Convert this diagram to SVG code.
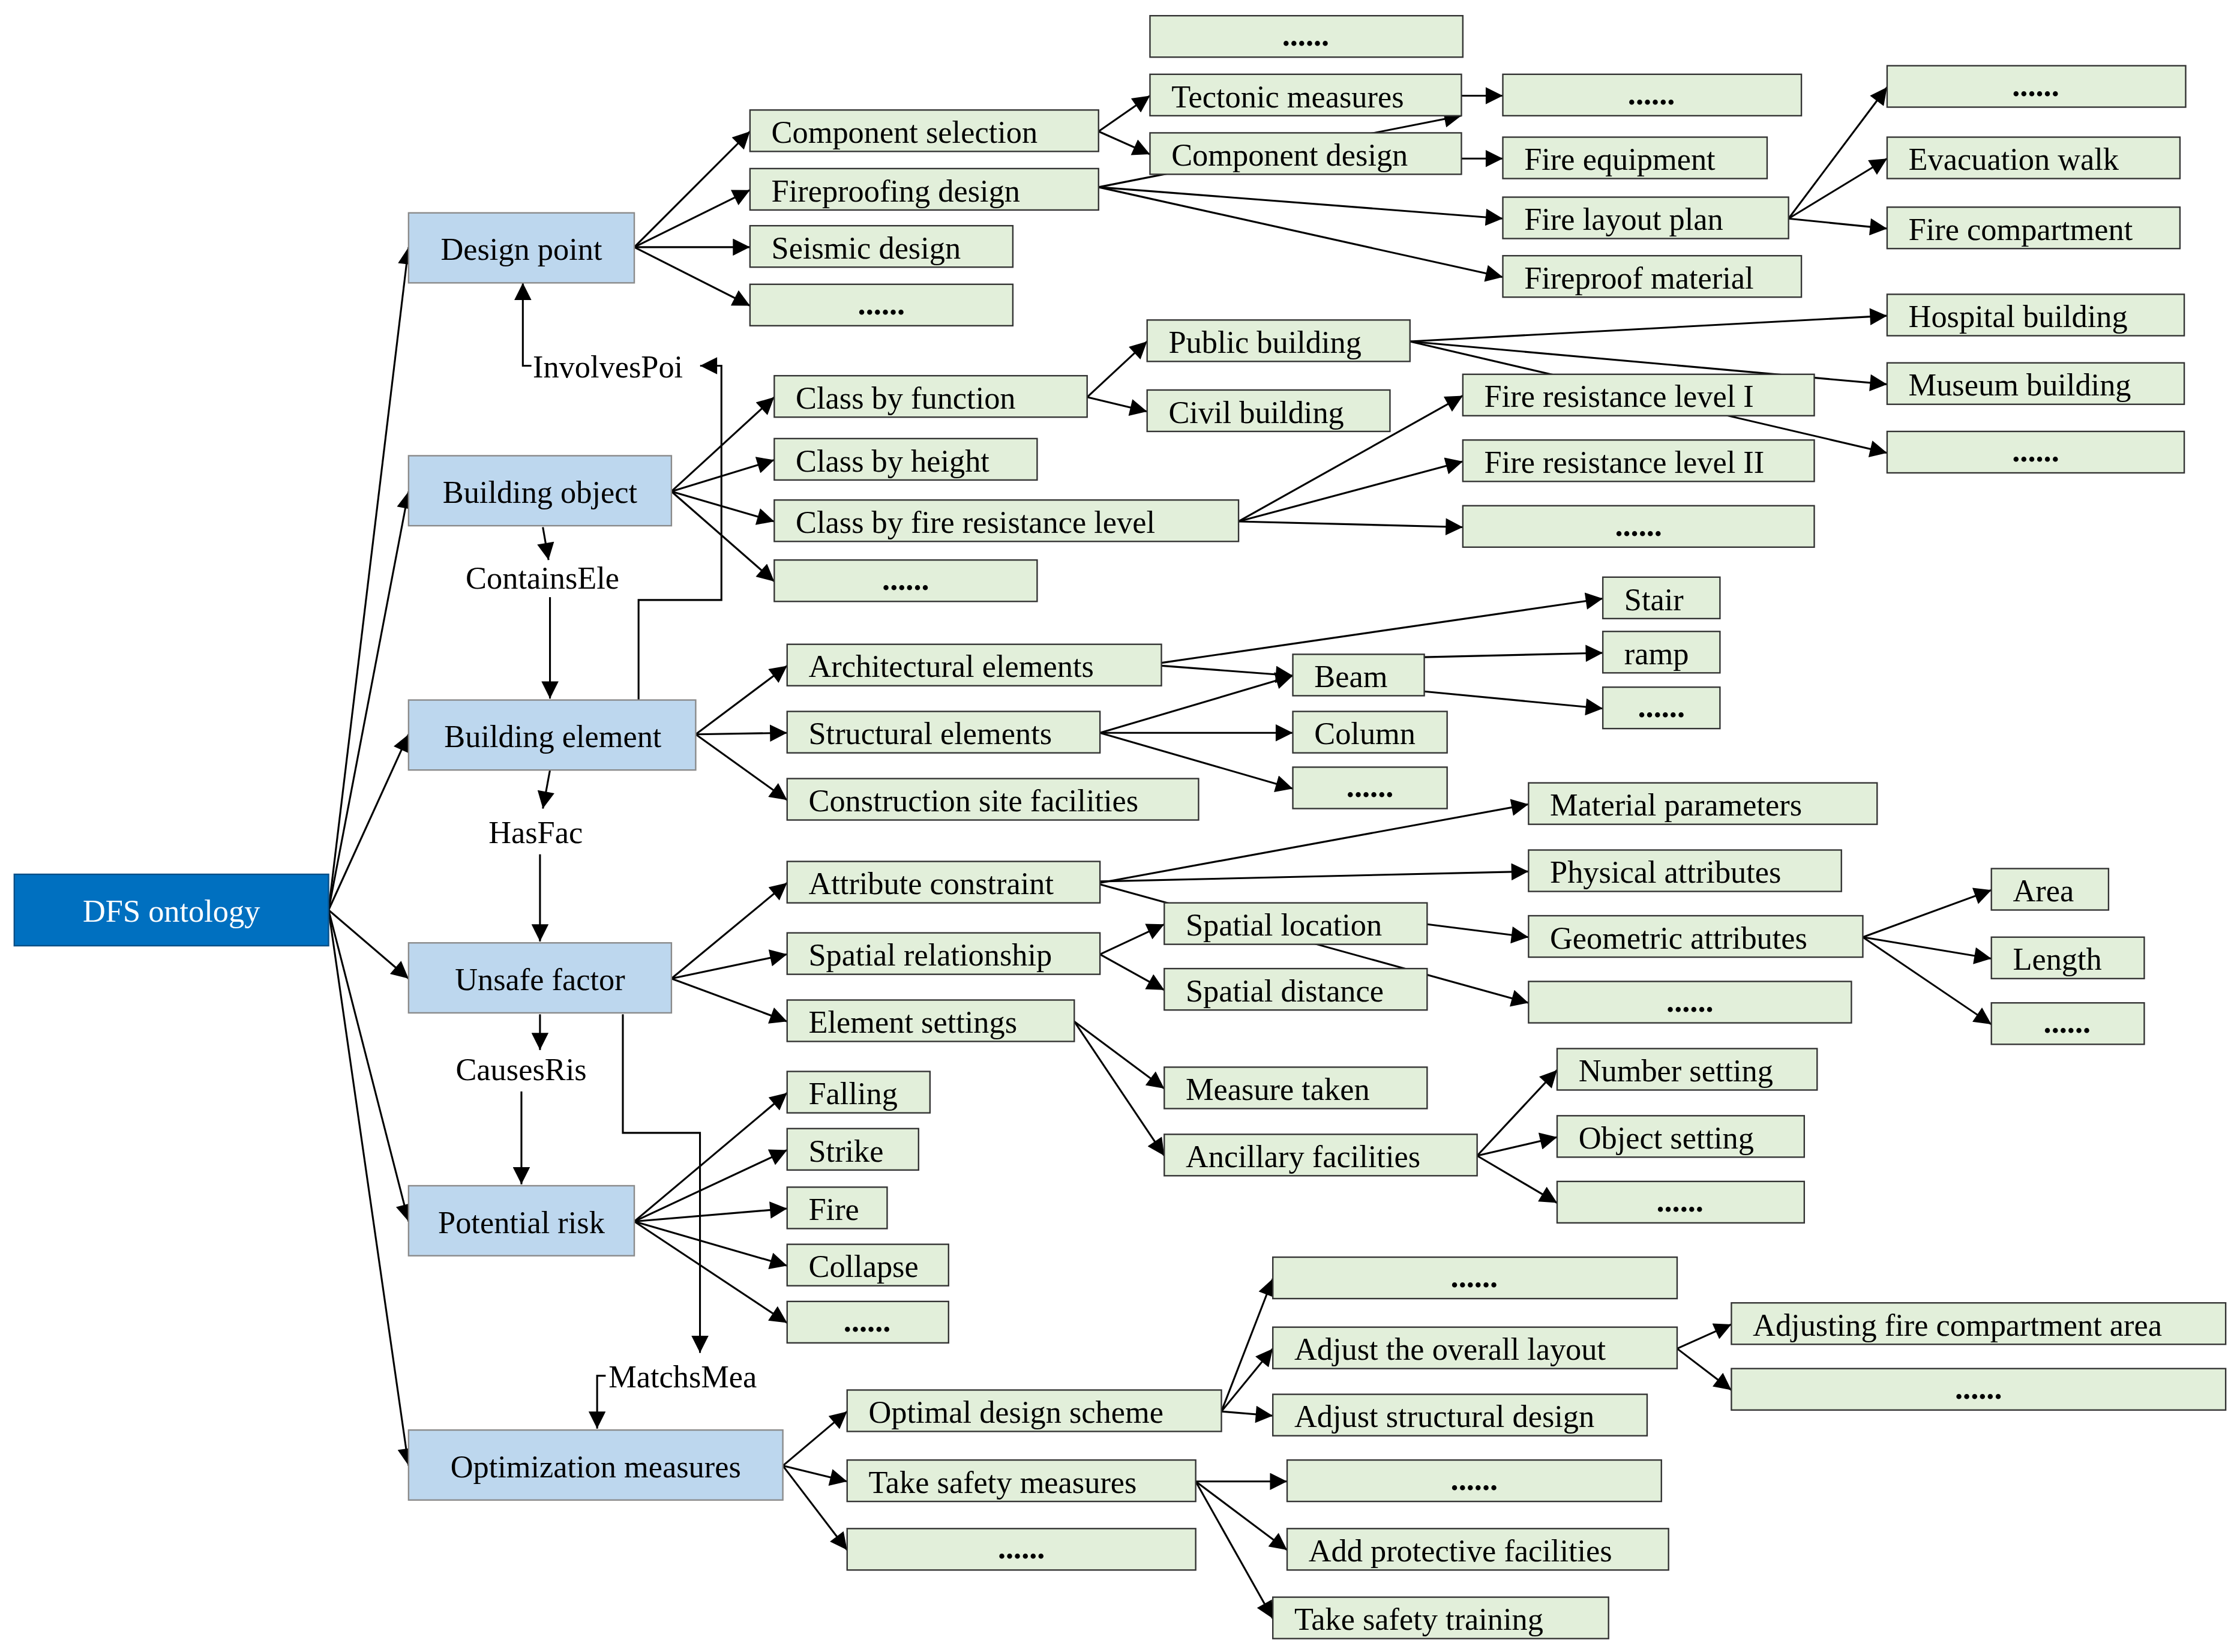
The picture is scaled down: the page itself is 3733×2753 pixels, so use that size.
<svg xmlns="http://www.w3.org/2000/svg" width="3733" height="2753" viewBox="0 0 3733 2753">
<style>
.b rect{fill:#bdd7ee;stroke:#8a8a8a;stroke-width:1}
.g rect{fill:#e2efda;stroke:#333;stroke-width:1}
text{font-family:"Liberation Serif","Times New Roman",serif;font-size:22px;fill:#000}
.c{text-anchor:middle}
.d{font-weight:bold;text-anchor:middle}
#edges line,#edges polyline{stroke:#000;stroke-width:1.3;fill:none}
</style>
<defs><marker id="a" viewBox="0 0 10 10" refX="10" refY="5" markerWidth="14" markerHeight="12" markerUnits="userSpaceOnUse" orient="auto"><path d="M0,0L10,5L0,10z" fill="#000"/></marker></defs>
<rect width="3733" height="2753" fill="#fff"/>
<g transform="scale(2.3807)">
<g id="edges" marker-end="url(#a)">
<line x1="230" y1="637" x2="286" y2="173" marker-end="url(#a)"/>
<line x1="230" y1="637" x2="286" y2="344" marker-end="url(#a)"/>
<line x1="230" y1="637" x2="286" y2="514" marker-end="url(#a)"/>
<line x1="230" y1="637" x2="286" y2="685" marker-end="url(#a)"/>
<line x1="230" y1="637" x2="286" y2="855" marker-end="url(#a)"/>
<line x1="230" y1="637" x2="286" y2="1026" marker-end="url(#a)"/>
<line x1="444" y1="173" x2="525" y2="92" marker-end="url(#a)"/>
<line x1="444" y1="173" x2="525" y2="133" marker-end="url(#a)"/>
<line x1="444" y1="173" x2="525" y2="173" marker-end="url(#a)"/>
<line x1="444" y1="173" x2="525" y2="214" marker-end="url(#a)"/>
<line x1="769" y1="92" x2="805" y2="67" marker-end="url(#a)"/>
<line x1="769" y1="92" x2="805" y2="108" marker-end="url(#a)"/>
<line x1="1023" y1="67" x2="1052" y2="67" marker-end="url(#a)"/>
<line x1="1023" y1="111" x2="1052" y2="111" marker-end="url(#a)"/>
<line x1="769" y1="131" x2="1023" y2="81"/>
<line x1="769" y1="131" x2="1052" y2="153" marker-end="url(#a)"/>
<line x1="769" y1="131" x2="1052" y2="194" marker-end="url(#a)"/>
<line x1="1252" y1="153" x2="1321" y2="61" marker-end="url(#a)"/>
<line x1="1252" y1="153" x2="1321" y2="111" marker-end="url(#a)"/>
<line x1="1252" y1="153" x2="1321" y2="160" marker-end="url(#a)"/>
<line x1="470" y1="344" x2="542" y2="278" marker-end="url(#a)"/>
<line x1="470" y1="344" x2="542" y2="322" marker-end="url(#a)"/>
<line x1="470" y1="344" x2="542" y2="365" marker-end="url(#a)"/>
<line x1="470" y1="344" x2="542" y2="407" marker-end="url(#a)"/>
<line x1="761" y1="278" x2="803" y2="239" marker-end="url(#a)"/>
<line x1="761" y1="278" x2="803" y2="288" marker-end="url(#a)"/>
<line x1="987" y1="239" x2="1321" y2="221" marker-end="url(#a)"/>
<line x1="987" y1="239" x2="1321" y2="269" marker-end="url(#a)"/>
<line x1="987" y1="239" x2="1321" y2="317" marker-end="url(#a)"/>
<line x1="867" y1="365" x2="1024" y2="277" marker-end="url(#a)"/>
<line x1="867" y1="365" x2="1024" y2="323" marker-end="url(#a)"/>
<line x1="867" y1="365" x2="1024" y2="369" marker-end="url(#a)"/>
<line x1="487" y1="514" x2="551" y2="466" marker-end="url(#a)"/>
<line x1="487" y1="514" x2="551" y2="513" marker-end="url(#a)"/>
<line x1="487" y1="514" x2="551" y2="560" marker-end="url(#a)"/>
<line x1="813" y1="464" x2="1122" y2="419" marker-end="url(#a)"/>
<line x1="813" y1="466" x2="905" y2="473" marker-end="url(#a)"/>
<line x1="997" y1="460" x2="1122" y2="457" marker-end="url(#a)"/>
<line x1="997" y1="484" x2="1122" y2="496" marker-end="url(#a)"/>
<line x1="770" y1="513" x2="905" y2="473" marker-end="url(#a)"/>
<line x1="770" y1="513" x2="905" y2="513" marker-end="url(#a)"/>
<line x1="770" y1="513" x2="905" y2="552" marker-end="url(#a)"/>
<line x1="470" y1="685" x2="551" y2="618" marker-end="url(#a)"/>
<line x1="470" y1="685" x2="551" y2="668" marker-end="url(#a)"/>
<line x1="470" y1="685" x2="551" y2="715" marker-end="url(#a)"/>
<line x1="770" y1="618" x2="1070" y2="563" marker-end="url(#a)"/>
<line x1="770" y1="617" x2="1070" y2="610" marker-end="url(#a)"/>
<line x1="770" y1="619" x2="1070" y2="702" marker-end="url(#a)"/>
<line x1="770" y1="668" x2="815" y2="647" marker-end="url(#a)"/>
<line x1="770" y1="668" x2="815" y2="693" marker-end="url(#a)"/>
<line x1="999" y1="647" x2="1070" y2="656" marker-end="url(#a)"/>
<line x1="1304" y1="656" x2="1394" y2="623" marker-end="url(#a)"/>
<line x1="1304" y1="656" x2="1394" y2="671" marker-end="url(#a)"/>
<line x1="1304" y1="656" x2="1394" y2="717" marker-end="url(#a)"/>
<line x1="752" y1="715" x2="815" y2="762" marker-end="url(#a)"/>
<line x1="752" y1="715" x2="815" y2="809" marker-end="url(#a)"/>
<line x1="1034" y1="809" x2="1090" y2="749" marker-end="url(#a)"/>
<line x1="1034" y1="809" x2="1090" y2="796" marker-end="url(#a)"/>
<line x1="1034" y1="809" x2="1090" y2="842" marker-end="url(#a)"/>
<line x1="444" y1="855" x2="551" y2="765" marker-end="url(#a)"/>
<line x1="444" y1="855" x2="551" y2="805" marker-end="url(#a)"/>
<line x1="444" y1="855" x2="551" y2="846" marker-end="url(#a)"/>
<line x1="444" y1="855" x2="551" y2="886" marker-end="url(#a)"/>
<line x1="444" y1="855" x2="551" y2="926" marker-end="url(#a)"/>
<line x1="548" y1="1026" x2="593" y2="988" marker-end="url(#a)"/>
<line x1="548" y1="1026" x2="593" y2="1037" marker-end="url(#a)"/>
<line x1="548" y1="1026" x2="593" y2="1085" marker-end="url(#a)"/>
<line x1="855" y1="988" x2="891" y2="895" marker-end="url(#a)"/>
<line x1="855" y1="988" x2="891" y2="944" marker-end="url(#a)"/>
<line x1="855" y1="988" x2="891" y2="991" marker-end="url(#a)"/>
<line x1="1174" y1="944" x2="1212" y2="927" marker-end="url(#a)"/>
<line x1="1174" y1="944" x2="1212" y2="973" marker-end="url(#a)"/>
<line x1="837" y1="1037" x2="901" y2="1037" marker-end="url(#a)"/>
<line x1="837" y1="1037" x2="901" y2="1085" marker-end="url(#a)"/>
<line x1="837" y1="1037" x2="891" y2="1133" marker-end="url(#a)"/>
<polyline points="447,490 447,420 505,420 505,256 490,256"/>
<polyline points="372,256 366,256 366,198" marker-end="url(#a)"/>
<line x1="380" y1="369" x2="384" y2="392"/>
<line x1="385" y1="418" x2="385" y2="489" marker-end="url(#a)"/>
<line x1="385" y1="539" x2="380" y2="566"/>
<line x1="378" y1="598" x2="378" y2="659" marker-end="url(#a)"/>
<line x1="378" y1="710" x2="378" y2="735"/>
<line x1="365" y1="764" x2="365" y2="829" marker-end="url(#a)"/>
<polyline points="436,710 436,793 490,793 490,947"/>
<polyline points="424,963 418,963 418,1000" marker-end="url(#a)"/>
</g>
<g fill="#fff">
<rect x="374" y="244" width="116" height="24"/><rect x="326" y="393" width="122" height="24"/><rect x="340" y="570" width="78" height="26"/><rect x="318" y="737" width="106" height="26"/><rect x="426" y="951" width="118" height="24"/>
</g>
<text x="373" y="264">InvolvesPoi</text>
<text x="326" y="412">ContainsEle</text>
<text x="342" y="590">HasFac</text>
<text x="319" y="756">CausesRis</text>
<text x="426" y="971">MatchsMea</text>
<g id="root"><rect x="10" y="612" width="220" height="50" fill="#0070c0" stroke="#0a4f86"/><text x="120" y="645" class="c" fill="#fff" style="fill:#fff">DFS ontology</text></g>
<g id="n_design" class="b"><rect x="286" y="149" width="158" height="49"/><text x="365" y="182" class="c">Design point</text></g>
<g id="n_bobj" class="b"><rect x="286" y="319" width="184" height="49"/><text x="378" y="352" class="c">Building object</text></g>
<g id="n_belem" class="b"><rect x="286" y="490" width="201" height="49"/><text x="387" y="523" class="c">Building element</text></g>
<g id="n_unsafe" class="b"><rect x="286" y="660" width="184" height="49"/><text x="378" y="693" class="c">Unsafe factor</text></g>
<g id="n_risk" class="b"><rect x="286" y="830" width="158" height="49"/><text x="365" y="863" class="c">Potential risk</text></g>
<g id="n_opt" class="b"><rect x="286" y="1001" width="262" height="49"/><text x="417" y="1034" class="c">Optimization measures</text></g>
<g class="g">
<g id="g1"><rect x="805" y="11" width="219" height="29"/><text x="914" y="32" class="d">......</text></g>
<g id="g2"><rect x="805" y="52" width="218" height="29"/><text x="820" y="75">Tectonic measures</text></g>
<g id="g3"><rect x="525" y="77" width="244" height="29"/><text x="540" y="100">Component selection</text></g>
<g id="g4"><rect x="805" y="93" width="218" height="29"/><text x="820" y="116">Component design</text></g>
<g id="g5"><rect x="1052" y="52" width="209" height="29"/><text x="1156" y="73" class="d">......</text></g>
<g id="g6"><rect x="1052" y="96" width="185" height="29"/><text x="1067" y="119">Fire equipment</text></g>
<g id="g7"><rect x="525" y="118" width="244" height="29"/><text x="540" y="141">Fireproofing design</text></g>
<g id="g8"><rect x="1052" y="138" width="200" height="29"/><text x="1067" y="161">Fire layout plan</text></g>
<g id="g9"><rect x="525" y="158" width="184" height="29"/><text x="540" y="181">Seismic design</text></g>
<g id="g10"><rect x="1052" y="179" width="209" height="29"/><text x="1067" y="202">Fireproof material</text></g>
<g id="g11"><rect x="525" y="199" width="184" height="29"/><text x="617" y="220" class="d">......</text></g>
<g id="g12"><rect x="1321" y="46" width="209" height="29"/><text x="1425" y="67" class="d">......</text></g>
<g id="g13"><rect x="1321" y="96" width="205" height="29"/><text x="1336" y="119">Evacuation walk</text></g>
<g id="g14"><rect x="1321" y="145" width="205" height="29"/><text x="1336" y="168">Fire compartment</text></g>
<g id="g15"><rect x="803" y="224" width="184" height="29"/><text x="818" y="247">Public building</text></g>
<g id="g16"><rect x="1321" y="206" width="208" height="29"/><text x="1336" y="229">Hospital building</text></g>
<g id="g17"><rect x="542" y="263" width="219" height="29"/><text x="557" y="286">Class by function</text></g>
<g id="g18"><rect x="803" y="273" width="170" height="29"/><text x="818" y="296">Civil building</text></g>
<g id="g19"><rect x="1321" y="254" width="208" height="29"/><text x="1336" y="277">Museum building</text></g>
<g id="g20"><rect x="1024" y="262" width="246" height="29"/><text x="1039" y="285">Fire resistance level I</text></g>
<g id="g21"><rect x="1321" y="302" width="208" height="29"/><text x="1425" y="323" class="d">......</text></g>
<g id="g22"><rect x="542" y="307" width="184" height="29"/><text x="557" y="330">Class by height</text></g>
<g id="g23"><rect x="1024" y="308" width="246" height="29"/><text x="1039" y="331">Fire resistance level II</text></g>
<g id="g24"><rect x="542" y="350" width="325" height="29"/><text x="557" y="373">Class by fire resistance level</text></g>
<g id="g25"><rect x="1024" y="354" width="246" height="29"/><text x="1147" y="375" class="d">......</text></g>
<g id="g26"><rect x="542" y="392" width="184" height="29"/><text x="634" y="413" class="d">......</text></g>
<g id="g27"><rect x="1122" y="404" width="82" height="29"/><text x="1137" y="427">Stair</text></g>
<g id="g28"><rect x="551" y="451" width="262" height="29"/><text x="566" y="474">Architectural elements</text></g>
<g id="g29"><rect x="1122" y="442" width="82" height="29"/><text x="1137" y="465">ramp</text></g>
<g id="g30"><rect x="905" y="458" width="92" height="29"/><text x="920" y="481">Beam</text></g>
<g id="g31"><rect x="1122" y="481" width="82" height="29"/><text x="1163" y="502" class="d">......</text></g>
<g id="g32"><rect x="551" y="498" width="219" height="29"/><text x="566" y="521">Structural elements</text></g>
<g id="g33"><rect x="905" y="498" width="108" height="29"/><text x="920" y="521">Column</text></g>
<g id="g34"><rect x="551" y="545" width="288" height="29"/><text x="566" y="568">Construction site facilities</text></g>
<g id="g35"><rect x="905" y="537" width="108" height="29"/><text x="959" y="558" class="d">......</text></g>
<g id="g36"><rect x="1070" y="548" width="244" height="29"/><text x="1085" y="571">Material parameters</text></g>
<g id="g37"><rect x="1070" y="595" width="219" height="29"/><text x="1085" y="618">Physical attributes</text></g>
<g id="g38"><rect x="551" y="603" width="219" height="29"/><text x="566" y="626">Attribute constraint</text></g>
<g id="g39"><rect x="1394" y="608" width="82" height="29"/><text x="1409" y="631">Area</text></g>
<g id="g40"><rect x="815" y="632" width="184" height="29"/><text x="830" y="655">Spatial location</text></g>
<g id="g41"><rect x="1070" y="641" width="234" height="29"/><text x="1085" y="664">Geometric attributes</text></g>
<g id="g42"><rect x="551" y="653" width="219" height="29"/><text x="566" y="676">Spatial relationship</text></g>
<g id="g43"><rect x="1394" y="656" width="107" height="29"/><text x="1409" y="679">Length</text></g>
<g id="g44"><rect x="815" y="678" width="184" height="29"/><text x="830" y="701">Spatial distance</text></g>
<g id="g45"><rect x="1070" y="687" width="226" height="29"/><text x="1183" y="708" class="d">......</text></g>
<g id="g46"><rect x="551" y="700" width="201" height="29"/><text x="566" y="723">Element settings</text></g>
<g id="g47"><rect x="1394" y="702" width="107" height="29"/><text x="1447" y="723" class="d">......</text></g>
<g id="g48"><rect x="1090" y="734" width="182" height="29"/><text x="1105" y="757">Number setting</text></g>
<g id="g49"><rect x="815" y="747" width="184" height="29"/><text x="830" y="770">Measure taken</text></g>
<g id="g50"><rect x="1090" y="781" width="173" height="29"/><text x="1105" y="804">Object setting</text></g>
<g id="g51"><rect x="551" y="750" width="100" height="29"/><text x="566" y="773">Falling</text></g>
<g id="g52"><rect x="815" y="794" width="219" height="29"/><text x="830" y="817">Ancillary facilities</text></g>
<g id="g53"><rect x="551" y="790" width="92" height="29"/><text x="566" y="813">Strike</text></g>
<g id="g54"><rect x="1090" y="827" width="173" height="29"/><text x="1176" y="848" class="d">......</text></g>
<g id="g55"><rect x="551" y="831" width="70" height="29"/><text x="566" y="854">Fire</text></g>
<g id="g56"><rect x="551" y="871" width="113" height="29"/><text x="566" y="894">Collapse</text></g>
<g id="g57"><rect x="551" y="911" width="113" height="29"/><text x="607" y="932" class="d">......</text></g>
<g id="g58"><rect x="891" y="880" width="283" height="29"/><text x="1032" y="901" class="d">......</text></g>
<g id="g59"><rect x="891" y="929" width="283" height="29"/><text x="906" y="952">Adjust the overall layout</text></g>
<g id="g60"><rect x="1212" y="912" width="346" height="29"/><text x="1227" y="935">Adjusting fire compartment area</text></g>
<g id="g61"><rect x="593" y="973" width="262" height="29"/><text x="608" y="996">Optimal design scheme</text></g>
<g id="g62"><rect x="1212" y="958" width="346" height="29"/><text x="1385" y="979" class="d">......</text></g>
<g id="g63"><rect x="891" y="976" width="262" height="29"/><text x="906" y="999">Adjust structural design</text></g>
<g id="g64"><rect x="593" y="1022" width="244" height="29"/><text x="608" y="1045">Take safety measures</text></g>
<g id="g65"><rect x="901" y="1022" width="262" height="29"/><text x="1032" y="1043" class="d">......</text></g>
<g id="g66"><rect x="901" y="1070" width="267" height="29"/><text x="916" y="1093">Add protective facilities</text></g>
<g id="g67"><rect x="593" y="1070" width="244" height="29"/><text x="715" y="1091" class="d">......</text></g>
<g id="g68"><rect x="891" y="1118" width="235" height="29"/><text x="906" y="1141">Take safety training</text></g>
</g>
</g>
</svg>
